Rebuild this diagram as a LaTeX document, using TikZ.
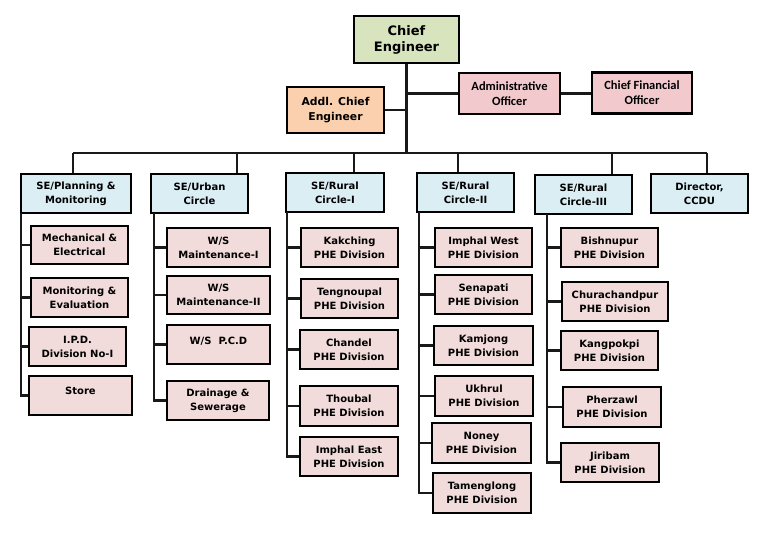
\documentclass[tikz,border=0pt]{standalone}
\usepackage{fontspec}
\setmainfont{DejaVu Sans}
\newfontfamily\calfont{Carlito}
\definecolor{cegreen}{HTML}{D7E4BD}
\definecolor{peach}{HTML}{FAD0AE}
\definecolor{offpink}{HTML}{F2CACE}
\definecolor{pinkc}{HTML}{F2DCDB}
\definecolor{bluec}{HTML}{DAEEF3}
\begin{document}
\begin{tikzpicture}[x=1pt,y=-1pt,
  base/.style={draw=black, line width=2.1pt, align=center, inner sep=1pt, text=black, font=\bfseries\fontsize{10}{14}\selectfont},
  cbox/.style={base, fill=pinkc},
  sebox/.style={base, fill=bluec},
  conn/.style={line width=2.1pt, black!90}
]
\useasboundingbox (0,0) rectangle (768,543);
% top level
\node[base, fill=cegreen, minimum width=105, minimum height=47, font=\bfseries\fontsize{13}{16}\selectfont] (ce) at (406.5,39.5) {Chief\\Engineer};
\node[base, fill=peach, minimum width=97, minimum height=46, font=\bfseries\fontsize{10.8}{15}\selectfont] (addl) at (335.5,110) {Addl. Chief\\Engineer};
\node[base, fill=offpink, minimum width=101, minimum height=41, font=\calfont\bfseries\fontsize{12.5}{15}\selectfont] (admin) at (509.5,93.5) {Administrative\\Officer};
\node[base, fill=offpink, minimum width=100, minimum height=41, font=\calfont\bfseries\fontsize{12.5}{15}\selectfont] (cfo) at (642,93) {Chief Financial\\Officer};
% bus
\coordinate (d1) at (73,153);
\coordinate (d2) at (237,153);
\coordinate (d3) at (354,153);
\coordinate (d4) at (458,153);
\coordinate (d5) at (612,153);
\coordinate (d6) at (707,153);
% level 2
\node[sebox, minimum width=110, minimum height=39] (plan) at (76,193.5) {SE/Planning \&\\Monitoring};
\node[sebox, minimum width=97, minimum height=39] (urban) at (199.5,193.5) {SE/Urban\\Circle};
\node[sebox, minimum width=98, minimum height=39] (r1) at (335,192.5) {SE/Rural\\Circle-I};
\node[sebox, minimum width=97, minimum height=39] (r2) at (465.5,192.5) {SE/Rural\\Circle-II};
\node[sebox, minimum width=97, minimum height=39] (r3) at (583.5,194.5) {SE/Rural\\Circle-III};
\node[sebox, minimum width=97, minimum height=39] (dir) at (699.5,193.5) {Director,\\CCDU};
% planning children
\node[cbox, minimum width=97, minimum height=38] (mech) at (79.5,245) {Mechanical \&\\Electrical};
\node[cbox, minimum width=97, minimum height=39] (mon) at (79.5,297.5) {Monitoring \&\\Evaluation};
\node[cbox, minimum width=97, minimum height=39] (ipd) at (77.5,346.5) {I.P.D.\\Division No-I};
\node[cbox, minimum width=103, minimum height=39, text depth=10pt] (store) at (80.5,395.5) {Store};
% urban children
\node[cbox, minimum width=103, minimum height=39] (ws1) at (218.5,247.5) {W/S\\Maintenance-I};
\node[cbox, minimum width=103, minimum height=38] (ws2) at (218.5,295) {W/S\\Maintenance-II};
\node[cbox, minimum width=103, minimum height=39, text depth=8pt] (pcd) at (218.5,344.5) {W/S~~P.C.D};
\node[cbox, minimum width=102, minimum height=39] (drain) at (218,400.5) {Drainage \&\\Sewerage};
% rural I children
\node[cbox, minimum width=97, minimum height=39] (kak) at (349.5,247.5) {Kakching\\PHE Division};
\node[cbox, minimum width=97, minimum height=39] (teng) at (349.5,298.5) {Tengnoupal\\PHE Division};
\node[cbox, minimum width=98, minimum height=39] (chan) at (349,349.5) {Chandel\\PHE Division};
\node[cbox, minimum width=98, minimum height=40] (thou) at (349,406) {Thoubal\\PHE Division};
\node[cbox, minimum width=98, minimum height=39] (ieast) at (349,456.5) {Imphal East\\PHE Division};
% rural II children
\node[cbox, minimum width=97, minimum height=39] (iwest) at (483.5,247.5) {Imphal West\\PHE Division};
\node[cbox, minimum width=97, minimum height=39] (sena) at (483.5,294.5) {Senapati\\PHE Division};
\node[cbox, minimum width=99, minimum height=39] (kamj) at (483.5,345.5) {Kamjong\\PHE Division};
\node[cbox, minimum width=98, minimum height=40] (ukh) at (484,396) {Ukhrul\\PHE Division};
\node[cbox, minimum width=99, minimum height=40] (noney) at (481.5,443) {Noney\\PHE Division};
\node[cbox, minimum width=98, minimum height=40] (tam) at (482,493) {Tamenglong\\PHE Division};
% rural III children
\node[cbox, minimum width=97, minimum height=39] (bish) at (609.5,247.5) {Bishnupur\\PHE Division};
\node[cbox, minimum width=106, minimum height=39] (chur) at (615,301.5) {Churachandpur\\PHE Division};
\node[cbox, minimum width=97, minimum height=39] (kang) at (609.5,350.5) {Kangpokpi\\PHE Division};
\node[cbox, minimum width=98, minimum height=40] (pher) at (612,407) {Pherzawl\\PHE Division};
\node[cbox, minimum width=98, minimum height=39] (jiri) at (610,462.5) {Jiribam\\PHE Division};
% vertical spine coordinates
\coordinate (v1) at (21,213);
\coordinate (v2) at (154,213);
\coordinate (v3) at (287,212);
\coordinate (v4) at (419,212);
\coordinate (v5) at (547,214);
% connectors top
\draw[conn] (ce.south) -- (ce.south |- d1);
\draw[conn] (ce.south |- admin.west) -- (admin.west);
\draw[conn] (addl.east) -- (addl.east -| ce.south);
\draw[conn] (admin.east) -- (admin.east -| cfo.west);
\draw[conn] (d1) -- (d6);
\draw[conn] (d1) -- (d1 |- plan.north);
\draw[conn] (d2) -- (d2 |- urban.north);
\draw[conn] (d3) -- (d3 |- r1.north);
\draw[conn] (d4) -- (d4 |- r2.north);
\draw[conn] (d5) -- (d5 |- r3.north);
\draw[conn] (d6) -- (d6 |- dir.north);
% planning
\draw[conn] (v1) |- (store.west);
\foreach \c in {mech,mon,ipd} \draw[conn] (v1 |- \c.west) -- (\c.west);
% urban
\draw[conn] (v2) |- (drain.west);
\foreach \c in {ws1,ws2,pcd} \draw[conn] (v2 |- \c.west) -- (\c.west);
% rural I
\draw[conn] (v3) |- (ieast.west);
\foreach \c in {kak,teng,chan,thou} \draw[conn] (v3 |- \c.west) -- (\c.west);
% rural II
\draw[conn] (v4) |- (tam.west);
\foreach \c in {iwest,sena,kamj,ukh,noney} \draw[conn] (v4 |- \c.west) -- (\c.west);
% rural III
\draw[conn] (v5) |- (jiri.west);
\foreach \c in {bish,chur,kang,pher} \draw[conn] (v5 |- \c.west) -- (\c.west);
\end{tikzpicture}
\end{document}
